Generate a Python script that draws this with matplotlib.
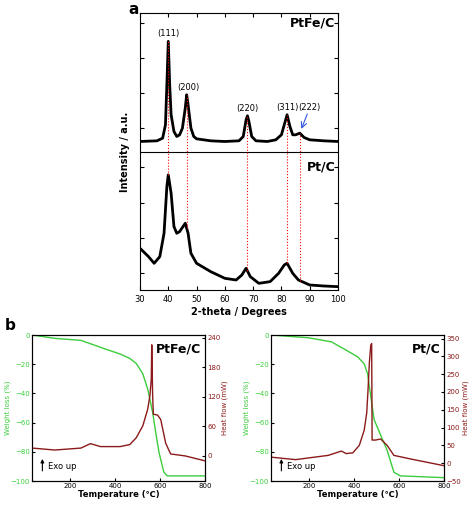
import matplotlib.pyplot as plt
import numpy as np

# ---- XRD data (arbitrary units) ----
two_theta_ptfe = [30, 33, 36, 38, 39, 39.5, 40, 40.5, 41, 42, 43, 44, 45, 46, 46.5, 47, 48, 49, 50, 55, 60,
                  65, 66.5, 67.5, 68, 68.5, 69.5, 71, 75, 78, 80, 81, 82, 83, 84, 85, 86.5, 88, 90, 95, 100]
int_ptfe = [30, 31, 32, 40, 80, 200, 330, 200, 110, 60, 45, 50, 70, 130, 170, 140, 70, 45, 38, 32, 30,
            32, 45, 95, 107, 90, 45, 32, 30, 35, 50, 80, 110, 75, 50, 50, 55, 42, 35, 32, 30]
two_theta_pt = [30, 33, 35, 37, 38.5, 39.5, 40, 41, 42, 43, 44, 46, 47, 48, 50, 55, 60, 64, 66, 67.5, 69,
                72, 76, 79, 81, 82, 84, 86, 90, 95, 100]
int_pt = [125, 100, 80, 100, 170, 310, 345, 290, 190, 170, 175, 200, 170, 110, 80, 55, 35, 30, 45, 65, 40,
          20, 25, 50, 75, 80, 50, 30, 15, 12, 10]
peak_pos = [40, 46.5, 68, 82, 86.5]
peak_labels = ['(111)', '(200)', '(220)', '(311)', '(222)']
label_y = [770, 608, 545, 548, 548]
label_x = [40, 47, 68, 82, 90]
offset = 415

# ---- TGA / DSC data ----
t_w1 = [30, 132, 248, 364, 422, 465, 494, 523, 545, 567, 581, 596, 617, 632, 800]
w1 = [0, -2.3, -3.7, -10, -13, -16, -19.5, -26.5, -37, -53, -67, -81, -94, -96.5, -96.5]
t_h1 = [30, 132, 248, 290, 335, 422, 465, 494, 523, 545, 555, 561, 563, 567, 570, 589, 603, 625, 647, 712, 800]
h1 = [16, 12, 16, 25, 19, 19, 23, 37, 61, 95, 123, 157, 226, 123, 85, 83, 74, 26, 4, 0, -10]

t_w2 = [30, 197, 299, 358, 416, 445, 460, 474, 489, 511, 547, 577, 606, 800]
w2 = [0, -1.9, -4.7, -9.8, -15, -19.8, -26.7, -42, -58, -66, -79, -94, -96.5, -97.7]
t_h2 = [30, 139, 285, 343, 365, 394, 423, 445, 456, 462, 468, 474, 478, 480, 496, 518, 547, 577, 650, 800]
h2 = [17, 10, 22, 34, 27, 29, 50, 93, 141, 208, 284, 331, 336, 65, 65, 68, 50, 22, 12, -7]

green = '#3ccc3c'
red = '#8b1a1a'
fs = 6

fig = plt.figure(figsize=(4.74, 5.05), dpi=100)
W, H = 474, 505

def box(x0, y0, x1, y1):
    return [x0 / W, 1 - y1 / H, (x1 - x0) / W, (y1 - y0) / H]

# ---------- panel a ----------
ax = fig.add_axes(box(140, 13, 338, 290))
ax.plot(two_theta_pt, int_pt, color='k', lw=2)
ax.plot(two_theta_ptfe, np.array(int_ptfe) + offset, color='k', lw=2)
ax.axhline(offset, color='k', lw=0.8)
for p in peak_pos:
    lo = np.interp(p, two_theta_pt, int_pt)
    hi = np.interp(p, two_theta_ptfe, int_ptfe) + offset
    ax.plot([p, p], [lo, hi], color='red', ls=':', lw=0.8)
for lx, ly, lab in zip(label_x, label_y, peak_labels):
    ax.text(lx, ly, lab, fontsize=fs, ha='center', va='center')
ax.annotate('', xy=(86.7, offset + 60), xytext=(89.5, 535),
            arrowprops=dict(arrowstyle='->', color='#3355dd', lw=0.8))
ax.text(99, 800, 'PtFe/C', fontsize=9, fontweight='bold', ha='right', va='center')
ax.text(99, 370, 'Pt/C', fontsize=9, fontweight='bold', ha='right', va='center')
ax.set_xlim(30, 100)
ax.set_ylim(0, 830)
ax.set_xticks(range(30, 101, 10))
ax.set_yticks([50, 155, 260, 370, 485, 590, 695, 800])
ax.set_yticklabels([])
ax.tick_params(direction='in', right=True, top=True, labelsize=fs, length=3)
ax.set_xlabel('2-theta / Degrees', fontsize=7, fontweight='bold', labelpad=2)
ax.set_ylabel('Intensity / a.u.', fontsize=7, fontweight='bold')
fig.text(128 / W, 1 - 10 / H, 'a', fontsize=11, fontweight='bold', va='center')

# ---------- panel b ----------
def tga(rect, tw, w, th, h, hlim, hticks, name):
    a1 = fig.add_axes(box(*rect))
    a1.plot(tw, w, color=green, lw=1)
    a1.set_xlim(30, 800)
    a1.set_ylim(-100, 0)
    a1.set_xticks([200, 400, 600, 800])
    a1.set_yticks([-100, -80, -60, -40, -20, 0])
    a1.tick_params(direction='in', labelsize=5, length=2, pad=1.5, colors='k')
    for lab in a1.get_yticklabels():
        lab.set_color(green)
    a1.set_ylabel('Weight loss (%)', color=green, fontsize=5, labelpad=0)
    a1.set_xlabel('Temperature (\u2103)', fontsize=fs, fontweight='bold', labelpad=1)
    a2 = a1.twinx()
    a2.plot(th, h, color=red, lw=1)
    a2.set_ylim(*hlim)
    a2.set_yticks(hticks)
    a2.tick_params(direction='in', labelsize=5, length=2, pad=1.5, labelcolor=red)
    a2.set_ylabel('Heat flow (mW)', color=red, fontsize=5, labelpad=1)
    a1.text(0.98, 0.95, name, transform=a1.transAxes, fontsize=9, fontweight='bold',
            ha='right', va='top')
    a1.annotate('', xy=(0.06, 0.17), xytext=(0.06, 0.05), xycoords='axes fraction',
                arrowprops=dict(arrowstyle='-|>', color='k', lw=0.8, mutation_scale=5))
    a1.text(0.09, 0.1, 'Exo up', transform=a1.transAxes, fontsize=fs, va='center')

tga((32, 335, 205, 481), t_w1, w1, t_h1, h1, (-51, 246), [0, 60, 120, 180, 240], 'PtFe/C')
tga((271, 335, 444, 481), t_w2, w2, t_h2, h2, (-50, 360), list(range(-50, 351, 50)), 'Pt/C')
fig.text(5 / W, 1 - 325 / H, 'b', fontsize=11, fontweight='bold', va='center')

fig.savefig('out.png', dpi=100)
